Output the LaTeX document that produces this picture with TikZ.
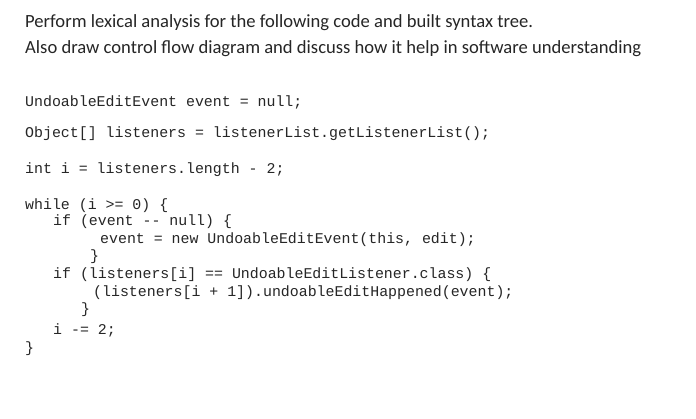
\documentclass[tikz,border=0pt]{standalone}
\usepackage{fontspec}
\setmainfont{Carlito}
\setmonofont{Liberation Mono}
\begin{document}
\begin{tikzpicture}[x=1pt,y=-1pt,
  title/.style={anchor=base west,inner sep=0pt,font=\fontsize{18.6}{20}\selectfont,text=black!85},
  code/.style={anchor=base west,inner sep=0pt,font=\ttfamily\fontsize{14.9}{17}\selectfont,text=black!85}]
\useasboundingbox[fill=white] (0,0) rectangle (696,419);
\node[title] (t1) at (25,28) {Perform lexical analysis for the following code and built syntax tree.};
\node[title] (t2) at (25,54) {Also draw control flow diagram and discuss how it help in software understanding};
\node[code] (c1) at (25,107) {UndoableEditEvent event = null;};
\node[code] (c2) at (25,138) {Object[] listeners = listenerList.getListenerList();};
\node[code] (c3) at (25,174) {int i = listeners.length - 2;};
\node[code] (c4) at (25,210) {while (i >= 0) \{};
\node[code] (c5) at (53,226) {if (event -- null) \{};
\node[code] (c6) at (100,244) {event = new UndoableEditEvent(this, edit);};
\node[code] (c7) at (90,261) {\}};
\node[code] (c8) at (53,279) {if (listeners[i] == UndoableEditListener.class) \{};
\node[code] (c9) at (93,297) {(listeners[i + 1]).undoableEditHappened(event);};
\node[code] (c10) at (81,314) {\}};
\node[code] (c11) at (53,335) {i -= 2;};
\node[code] (c12) at (25,353) {\}};
\end{tikzpicture}
\end{document}
